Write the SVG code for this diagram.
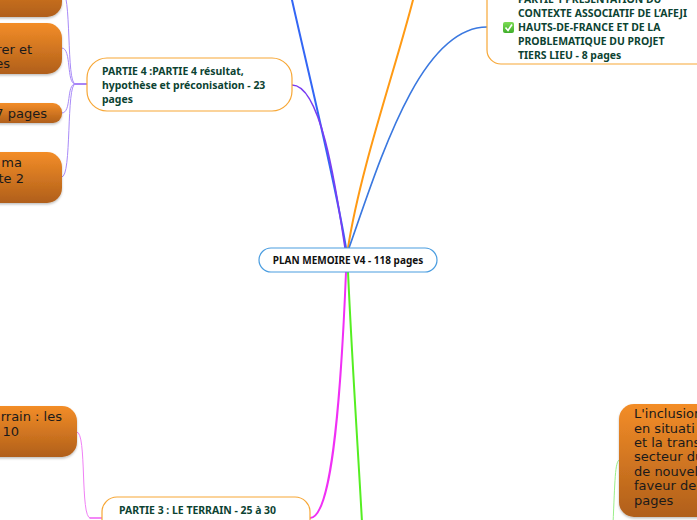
<svg xmlns="http://www.w3.org/2000/svg" width="697" height="520" viewBox="0 0 697 520">
<defs>
<linearGradient id="og" x1="0" y1="0" x2="0" y2="1">
<stop offset="0" stop-color="#f38d28"/>
<stop offset="1" stop-color="#b05f1a"/>
</linearGradient>
<linearGradient id="cg" x1="0" y1="0" x2="0" y2="1">
<stop offset="0" stop-color="#7ddc55"/>
<stop offset="1" stop-color="#3fae2a"/>
</linearGradient>
<filter id="sh" x="-10%" y="-10%" width="120%" height="130%">
<feDropShadow dx="0" dy="1.5" stdDeviation="1.2" flood-color="#000" flood-opacity="0.25"/>
</filter>
</defs>
<style>
.wn{fill:#fff;stroke:#f7a736;stroke-width:1.2}
.on{fill:url(#og);filter:url(#sh)}
.bt{font-family:"Noto Sans","Open Sans",sans-serif;font-weight:bold;font-size:10.45px;fill:#0c4332}
.ct{font-family:"Noto Sans","Open Sans",sans-serif;font-weight:bold;font-size:10px;fill:#111}
.ot{font-family:"DejaVu Sans","Noto Sans",sans-serif;font-size:13px;fill:#1a1a1a}
.c{fill:none;stroke-linecap:round}
</style>
<g id="connectors">
<path class="c" d="M346,248 C335,180 310,80 292,0" stroke="#3366f5" stroke-width="2"/>
<path class="c" d="M345,248 C335,180 320,85 292,85" stroke="#7a3cf2" stroke-width="1.6"/>
<path class="c" d="M348,248 C360,170 395,70 413,0" stroke="#ff9a14" stroke-width="2"/>
<path class="c" d="M349,248 C380,160 420,27 487,27" stroke="#3a78e0" stroke-width="1.6"/>
<path class="c" d="M346,272 C340,420 330,518 310,518" stroke="#f030f5" stroke-width="2"/>
<path class="c" d="M348,272 C352,360 358,450 362,522" stroke="#55ee22" stroke-width="2"/>
<path class="c" d="M87,84 L75,84" stroke="#8c5cf5" stroke-width="1.5"/>
<path class="c" d="M75,84 C66,84 72,-10 62,-10" stroke="#a88af8" stroke-width="1"/>
<path class="c" d="M75,84 C66,84 72,48 62,48" stroke="#a88af8" stroke-width="1"/>
<path class="c" d="M75,84 C66,84 72,113 62,113" stroke="#a88af8" stroke-width="1"/>
<path class="c" d="M75,84 C66,84 72,177 62,177" stroke="#a88af8" stroke-width="1"/>
<path class="c" d="M102,518 L90,518" stroke="#f060f5" stroke-width="1.5"/>
<path class="c" d="M90,518 C80,518 87,432 77,432" stroke="#f080f5" stroke-width="1"/>
<path class="c" d="M613,524 C615,480 615,462 619,460" stroke="#99ee88" stroke-width="1"/>
</g>
<g id="central">
<rect x="259" y="248" width="178" height="24" rx="12" fill="#fff" stroke="#4a9de0" stroke-width="1.2"/>
<text class="ct" x="348" y="264" text-anchor="middle">PLAN MEMOIRE V4 - 118 pages</text>
</g>
<g id="partie1">
<rect class="wn" x="487" y="-40" width="260" height="104" rx="14"/>
<rect x="503" y="22" width="11" height="11" rx="2" fill="url(#cg)"/>
<path d="M505.5,27.5 L508,30.5 L512,24.5" fill="none" stroke="#fff" stroke-width="1.6"/>
<text class="bt" x="518" y="3">PARTIE 1 PRÉSENTATION DU</text>
<text class="bt" x="518" y="17">CONTEXTE ASSOCIATIF DE L’AFEJI</text>
<text class="bt" x="518" y="31">HAUTS-DE-FRANCE ET DE LA</text>
<text class="bt" x="518" y="45">PROBLEMATIQUE DU PROJET</text>
<text class="bt" x="518" y="59">TIERS LIEU - 8 pages</text>
</g>
<g id="partie4">
<rect class="wn" x="87" y="58" width="205" height="53" rx="20"/>
<text class="bt" x="102" y="75">PARTIE 4 :PARTIE 4 résultat,</text>
<text class="bt" x="102" y="89">hypothèse et préconisation - 23</text>
<text class="bt" x="102" y="103">pages</text>
</g>
<g id="p4c1">
<rect class="on" x="-120" y="-40" width="182" height="57" rx="15"/>
</g>
<g id="p4c2">
<rect class="on" x="-120" y="23" width="182" height="51" rx="15"/>
<text class="ot" x="32" y="54" text-anchor="end">rer et</text>
<text class="ot" x="10" y="68" text-anchor="end">es</text>
</g>
<g id="p4c3">
<rect class="on" x="-120" y="103" width="182" height="20" rx="9"/>
<text class="ot" x="47" y="118" text-anchor="end">7 pages</text>
</g>
<g id="p4c4">
<rect class="on" x="-120" y="152" width="182" height="51" rx="15"/>
<text class="ot" x="22" y="167" text-anchor="end">ma</text>
<text class="ot" x="24" y="183" text-anchor="end">te 2</text>
</g>
<g id="partie3">
<rect class="wn" x="102" y="497" width="208" height="50" rx="15"/>
<text class="bt" x="119" y="514">PARTIE 3 : LE TERRAIN - 25 à 30</text>
</g>
<g id="p3c1">
<rect class="on" x="-120" y="406" width="197" height="51" rx="15"/>
<text class="ot" x="62" y="421" text-anchor="end">rrain : les</text>
<text class="ot" x="19" y="436" text-anchor="end">10</text>
</g>
<g id="p2c1">
<rect class="on" x="619" y="404" width="160" height="113" rx="15"/>
<text class="ot" x="634" y="418">L'inclusion</text>
<text class="ot" x="634" y="433">en situati</text>
<text class="ot" x="634" y="447">et la trans</text>
<text class="ot" x="634" y="461">secteur du</text>
<text class="ot" x="634" y="476">de nouvel</text>
<text class="ot" x="634" y="490">faveur de</text>
<text class="ot" x="634" y="505">pages</text>
</g>
</svg>
